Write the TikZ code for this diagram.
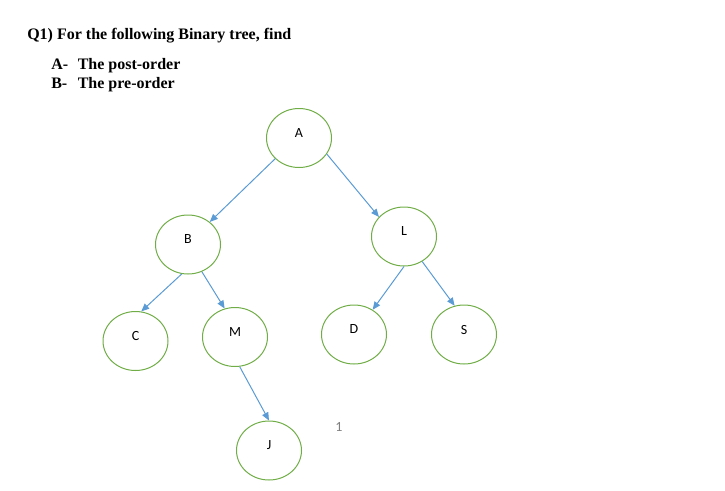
\documentclass[tikz,border=0pt]{standalone}
\usepackage{fontspec}
\setmainfont{Liberation Serif}
\newfontfamily\calib{Carlito}
\usetikzlibrary{shapes.geometric,arrows.meta}
\definecolor{treegreen}{HTML}{70AD47}
\definecolor{treeblue}{HTML}{5B9BD5}
\definecolor{pagegray}{HTML}{7F7F7F}
\begin{document}
\begin{tikzpicture}[x=0.75pt,y=-0.75pt,
  tn/.style={ellipse,draw=treegreen,line width=0.75pt,minimum width=48.75pt,minimum height=44.25pt,inner sep=0pt},
  lbl/.style={font=\calib\fontsize{10.5}{12}\selectfont,inner sep=0pt},
  head/.style={font=\bfseries\fontsize{12}{14}\selectfont,inner sep=0pt,anchor=base west},
  edge/.style={draw=treeblue,line width=0.75pt,-{Triangle[length=6pt,width=5pt]}}]
\useasboundingbox (0,0) rectangle (725,490);
% heading
\node[head] (q) at (27,39) {Q1) For the following Binary tree, find};
\node[head] (ia) at (51,69.3) {A-};
\node[head] (ta) at (77.5,69.3) {The post-order};
\node[head] (ib) at (51,88.3) {B-};
\node[head] (tb) at (77.5,88.3) {The pre-order};
% nodes
\node[tn] (A) at (299,138) {};
\node[tn] (B) at (188,244.5) {};
\node[tn] (C) at (135.5,341) {};
\node[tn] (M) at (235,337) {};
\node[tn] (J) at (269,450.5) {};
\node[tn] (L) at (404,236.5) {};
\node[tn] (D) at (354,334.5) {};
\node[tn] (S) at (464,334.5) {};
% labels
\node[lbl] (lA) at ([yshift=3.75pt]A.center) {A};
\node[lbl] (lB) at ([yshift=3.75pt]B.center) {B};
\node[lbl] (lC) at ([yshift=3.75pt]C.center) {C};
\node[lbl] (lM) at ([yshift=3.75pt]M.center) {M};
\node[lbl] (lJ) at ([yshift=3.75pt]J.center) {J};
\node[lbl] (lL) at ([yshift=3.75pt]L.center) {L};
\node[lbl] (lD) at ([yshift=3.75pt]D.center) {D};
\node[lbl] (lS) at ([yshift=3.75pt]S.center) {S};
\node[lbl,text=pagegray] (pg) at (339,427) {1};
% edges
\draw[edge] (A.221) -- (B.46);
\draw[edge] (A.330) -- (L.142);
\draw[edge] (B.258) -- (C.79);
\draw[edge] (B.297) -- (M.110);
\draw[edge] (M.279) -- (J.90);
\draw[edge] (L.270) -- (D.53);
\draw[edge] (L.306) -- (S.108);
\end{tikzpicture}
\end{document}
